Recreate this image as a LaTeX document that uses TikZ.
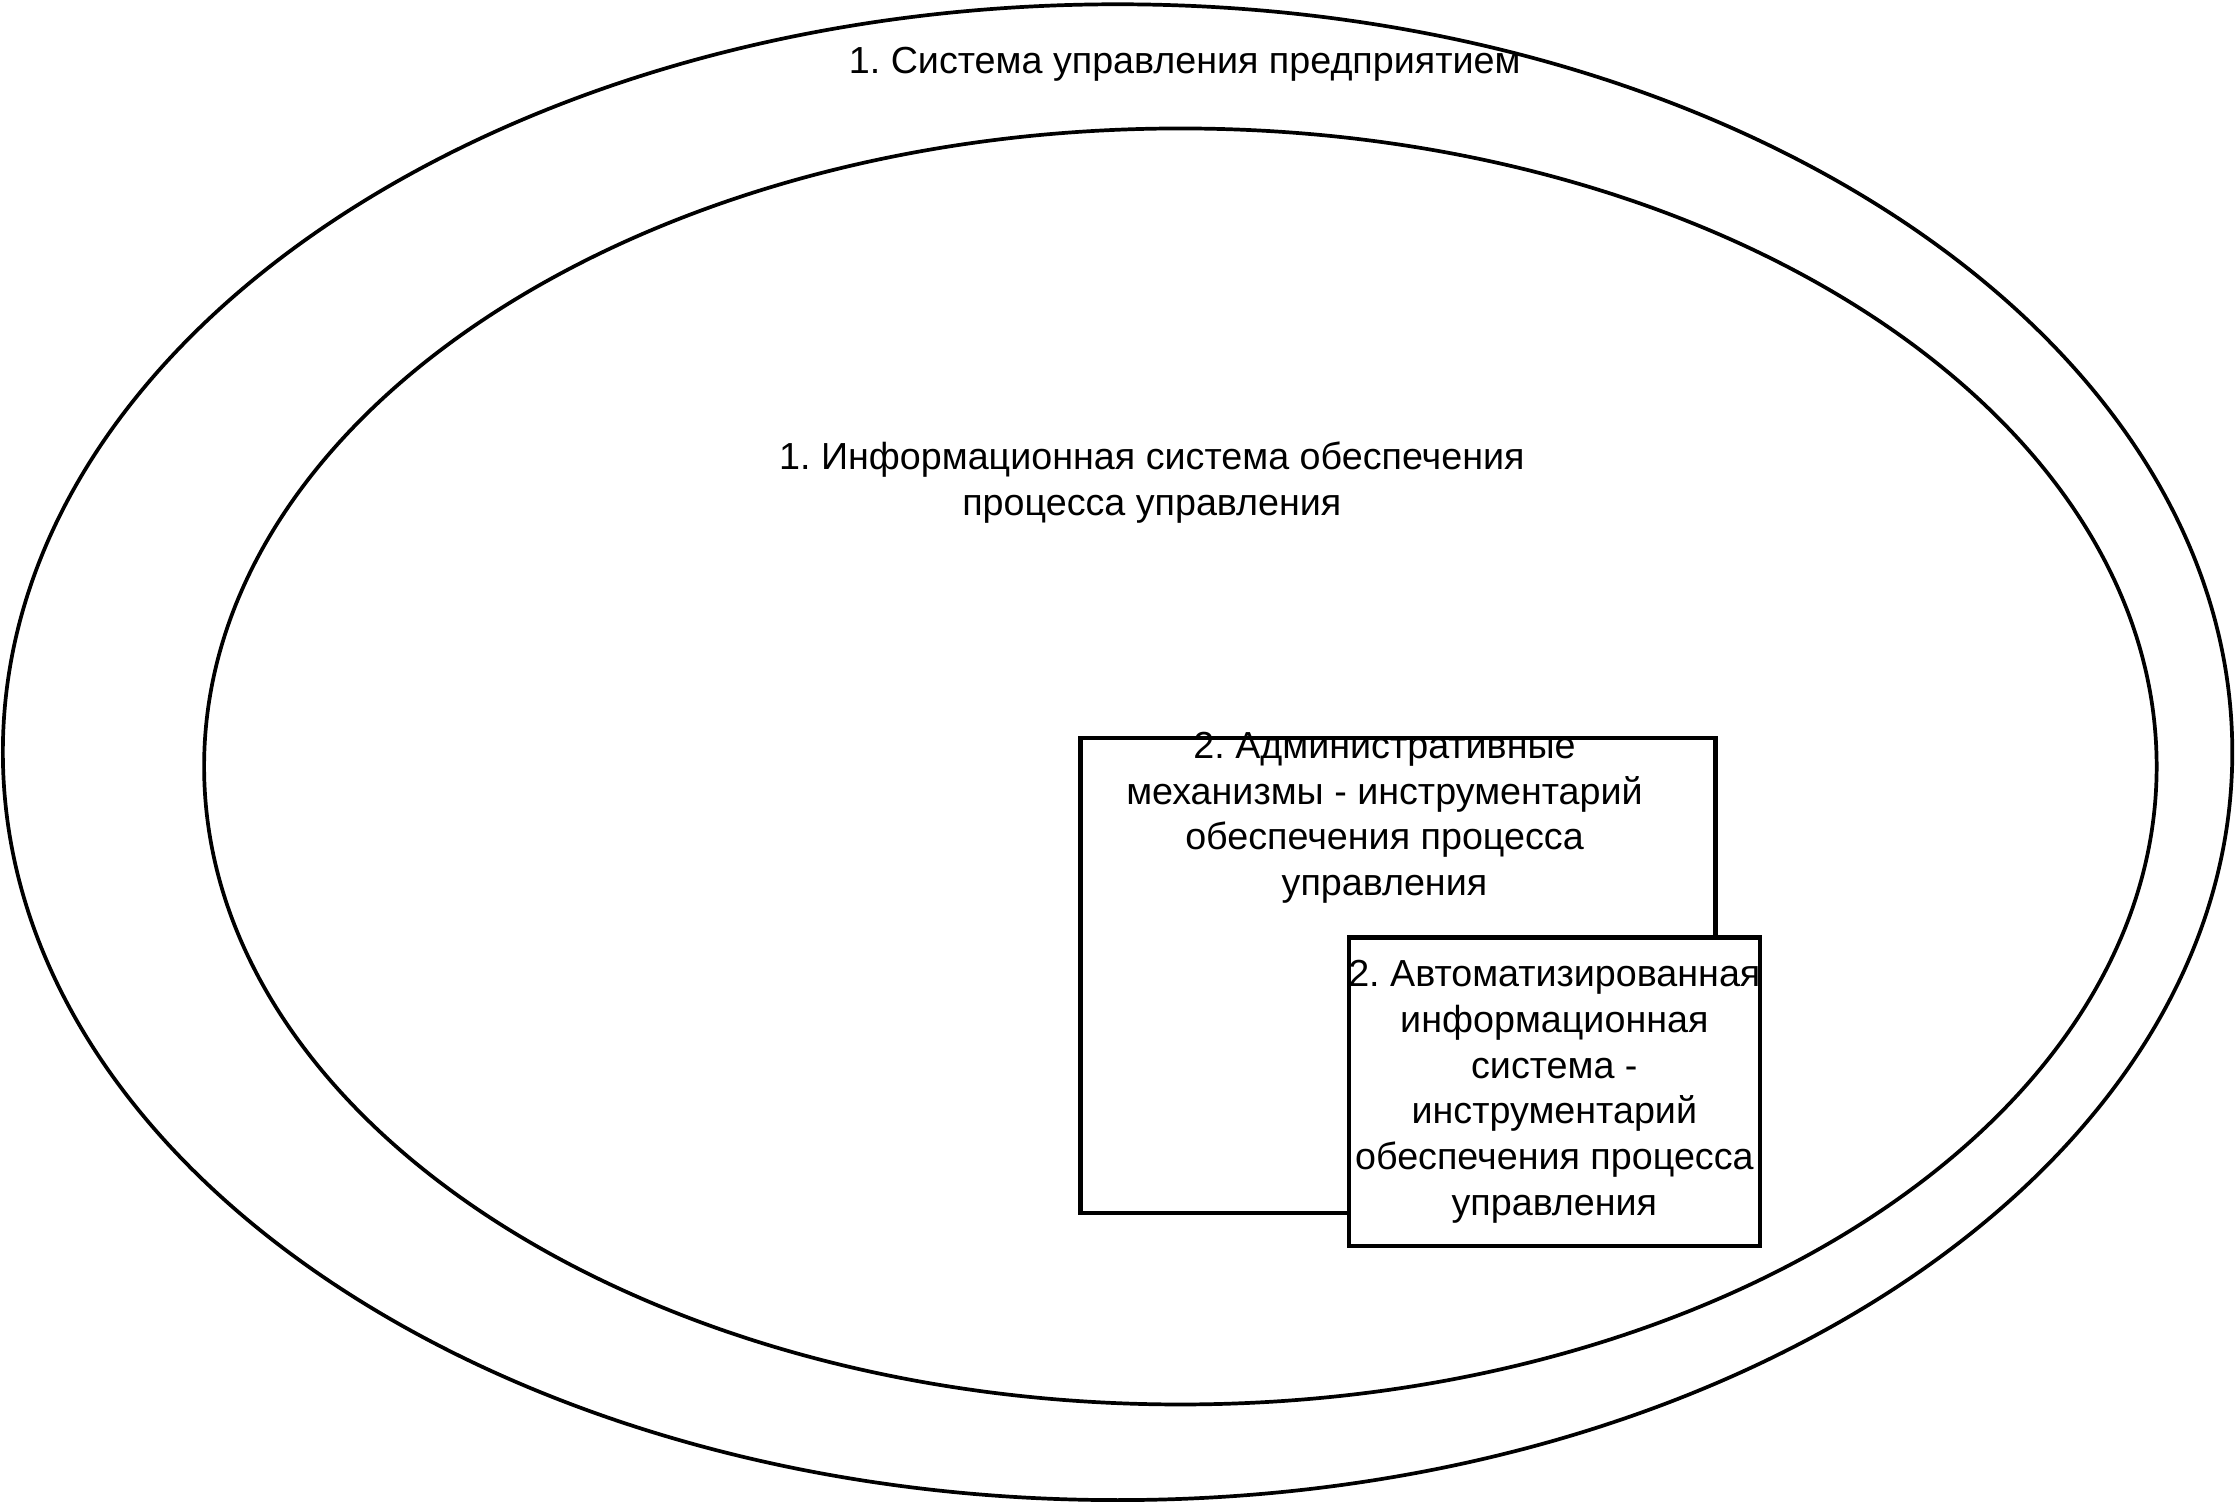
\documentclass[tikz,border=0pt]{standalone}
\usepackage{fontspec}
\setmainfont{Liberation Sans}
\frenchspacing
\begin{document}
\begin{tikzpicture}[x=0.5pt,y=-0.5pt,
    ring/.style={line width=1.3pt},
    box/.style={line width=1.6pt, fill=white},
    lbl/.style={font=\fontsize{13.2}{16}\selectfont, align=center, inner sep=0pt}]
   \useasboundingbox (0,0) rectangle (1568,1054);
   % sets
   \draw[ring] (783,527) ellipse [x radius=781, y radius=524];
   \draw[ring] (827,537) ellipse [x radius=684, y radius=447];
   \node[lbl] (sys) at (830,45) {1. Система управления предприятием};
   \node[lbl] (info) at (807,338) {1. Информационная система обеспечения\\процесса управления};
   % tools
   \draw[box] (757,517) rectangle (1202,850);
   \node[lbl] (adm) at (970,573) {2. Административные\\механизмы - инструментарий\\обеспечения процесса\\управления};
   \draw[box] (945,657) rectangle (1233,873);
   \node[lbl] (ais) at (1089,765) {2. Автоматизированная\\информационная\\система -\\инструментарий\\обеспечения процесса\\управления};
\end{tikzpicture}
\end{document}
